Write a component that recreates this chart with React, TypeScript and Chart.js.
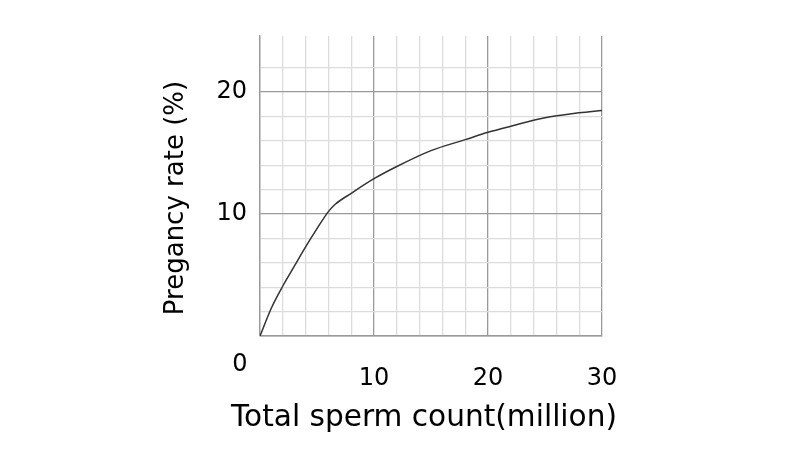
import React, { useEffect, useRef } from "react";
import { Chart, registerables } from "chart.js";

Chart.register(...registerables);

const spermCount = [0, 1, 2, 3, 4, 5, 6, 6.6, 8, 10, 12, 15, 18, 20, 22, 25, 28, 30];
const pregnancyRate = [0, 2.3, 4.1, 5.7, 7.3, 8.8, 10.2, 10.8, 11.7, 12.9, 13.9, 15.2, 16.1, 16.7, 17.2, 17.9, 18.3, 18.5];
const xTickLabels = [10, 20, 30];
const yTickLabels = [10, 20];
const xTitle = "Total sperm count(million)";
const yTitle = "Pregancy rate (%)";
const originLabel = "0";

const FONT = "'DejaVu Sans', sans-serif";

export default function App() {
  const ref = useRef<HTMLCanvasElement | null>(null);
  useEffect(() => {
    const canvas = ref.current;
    if (!canvas) return;
    const labelsPlugin = {
      id: "extraLabels",
      afterDraw(chart: any) {
        const { ctx, scales, chartArea } = chart;
        ctx.save();
        ctx.fillStyle = "#000";
        ctx.textAlign = "center";
        ctx.textBaseline = "middle";
        // origin label
        ctx.font = `24px ${FONT}`;
        ctx.fillText(originLabel, scales.x.getPixelForValue(0) - 20, scales.y.getPixelForValue(0) + 29);
        // x title
        ctx.font = `29.6px ${FONT}`;
        ctx.fillText(xTitle, chartArea.left + (chartArea.right - chartArea.left) / 2 - 7, chartArea.bottom + 82);
        // y title
        ctx.font = `26px ${FONT}`;
        ctx.translate(chartArea.left - 84, chartArea.top + (chartArea.bottom - chartArea.top) / 2 + 12);
        ctx.rotate(-Math.PI / 2);
        ctx.fillText(yTitle, 0, 0);
        ctx.restore();
      },
    };
    const gridColor = (v: number) =>
      v % 10 === 0 ? "#9a9a9a" : v % 2 === 0 ? "#dcdcdc" : "rgba(0,0,0,0)";
    const chart = new Chart(canvas, {
      type: "line",
      data: {
        datasets: [
          {
            data: spermCount.map((x, i) => ({ x, y: pregnancyRate[i] })),
            borderColor: "#333",
            borderWidth: 1.5,
            pointRadius: 0,
            cubicInterpolationMode: "monotone",
            fill: false,
          },
        ],
      },
      options: {
        responsive: false,
        animation: false,
        layout: { padding: { left: 162, top: 36, right: 198, bottom: 14 } },
        plugins: { legend: { display: false }, tooltip: { enabled: false } },
        scales: {
          x: {
            type: "linear",
            min: 0,
            max: 30,
            afterFit: (s: any) => {
              s.height = 100;
            },
            border: { color: "#bbbbbb", width: 1 },
            grid: {
              drawTicks: false,
              color: (c: any) => gridColor(c.tick.value),
              lineWidth: 1.3,
            },
            ticks: {
              stepSize: 2,
              autoSkip: false,
              maxRotation: 0,
              padding: 28,
              color: "#000",
              font: { family: FONT, size: 24 },
              callback: (v: any) => (xTickLabels.includes(Number(v)) ? String(v) : ""),
            },
          },
          y: {
            type: "linear",
            min: 0,
            max: 24.6,
            afterFit: (s: any) => {
              s.width = 98;
            },
            border: { color: "#9a9a9a", width: 1.3 },
            grid: {
              drawTicks: false,
              color: (c: any) => gridColor(c.tick.value),
              lineWidth: 1.2,
            },
            ticks: {
              stepSize: 2,
              autoSkip: false,
              padding: 13,
              color: "#000",
              font: { family: FONT, size: 24 },
              callback: (v: any) => (yTickLabels.includes(Number(v)) ? String(v) : ""),
            },
          },
        },
      },
      plugins: [labelsPlugin],
    } as any);
    return () => chart.destroy();
  }, []);
  return (
    <div style={{ position: "absolute", left: 0, top: 0, width: 800, height: 450, background: "#fff" }}>
      <canvas ref={ref} width={800} height={450} />
    </div>
  );
}
